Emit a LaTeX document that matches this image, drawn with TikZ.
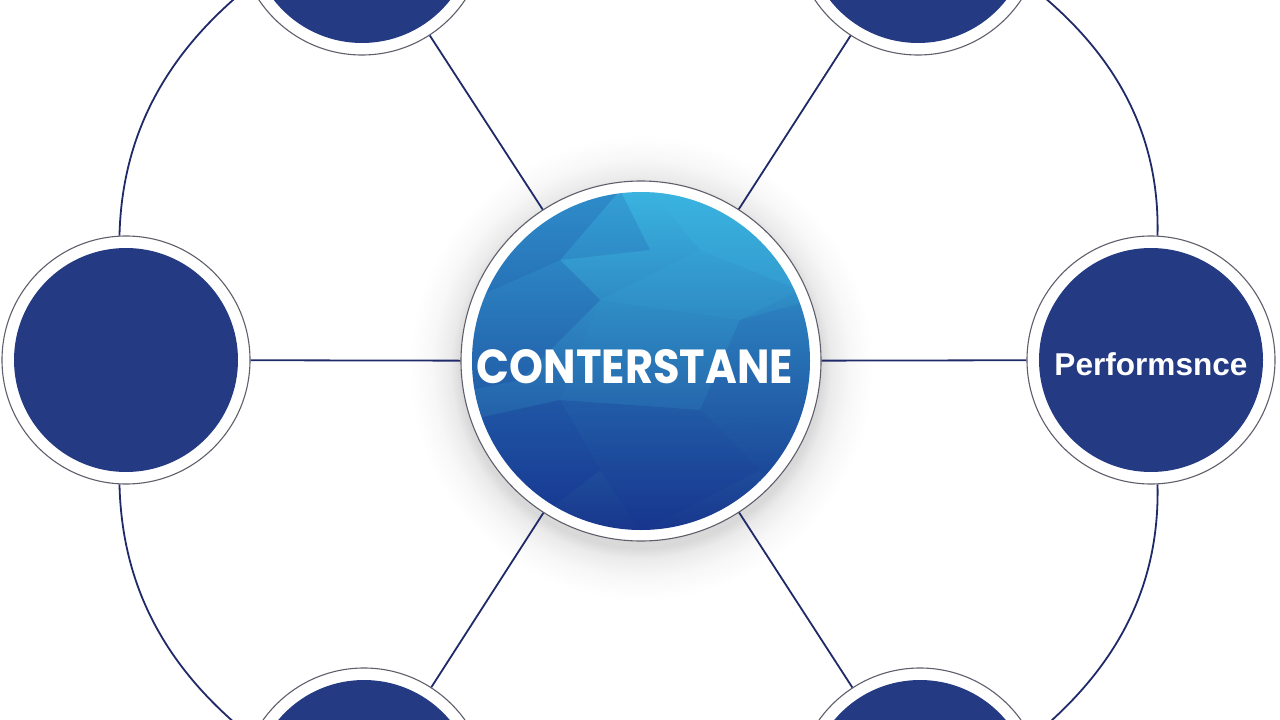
\documentclass[tikz,border=0pt]{standalone}
\usepackage{fontspec}
\newfontfamily\popfont{Poppins}
\newfontfamily\arialfont{Liberation Sans}
\usetikzlibrary{calc}
\definecolor{navy}{RGB}{36,59,132}
\definecolor{linecol}{RGB}{32,42,104}
\definecolor{ringcol}{RGB}{95,95,108}
\definecolor{cyanA}{RGB}{58,180,224}
\definecolor{blueB}{RGB}{34,108,200}
\definecolor{blueC}{RGB}{24,54,140}
\definecolor{deepblue}{RGB}{20,50,150}
\pgfdeclareradialshading{glow}{\pgfpoint{0bp}{0bp}}{color(0bp)=(black!15); color(19.4bp)=(black!15); color(20.5bp)=(black!8); color(22.5bp)=(black!3); color(25bp)=(white); color(50bp)=(white)}
\begin{document}
\begin{tikzpicture}[x=1pt,y=-1pt,
  outer/.style={circle, minimum size=248pt, inner sep=0pt, draw=ringcol, line width=1.1pt, fill=white},
  hub/.style={circle, minimum size=360pt, inner sep=0pt, draw=ringcol, line width=1.1pt, fill=white},
  link/.style={draw=linecol, line width=1.8pt},
  facetW/.style={fill=cyanA, fill opacity=#1},
  facetK/.style={fill=deepblue, fill opacity=#1},
  label/.style={text=white, inner sep=0pt}
]
\fill[white] (0,0) rectangle (1280,720);
\useasboundingbox (0,0) rectangle (1280,720);
\shade[shading=glow] (641,368) circle (232);

% nodes (outer rings)
\node[hub] (C) at (641,361) {};
\node[outer] (L) at (126,360) {};
\node[outer] (R) at (1151,360) {};
\node[outer] (TL) at (362,-69) {};
\node[outer] (TR) at (918,-69) {};
\node[outer] (BL) at (364,792) {};
\node[outer] (BR) at (920,792) {};

% spokes
\draw[link] (C) -- (L);
\draw[link] (C) -- (R);
\draw[link] (C) -- (TL);
\draw[link] (C) -- (TR);
\draw[link] (C) -- (BL);
\draw[link] (C) -- (BR);

% outer arcs
\draw[link] (L.93) .. controls (122,130) and (170,50) .. (TL.206);
\draw[link] (L.267) .. controls (122,592) and (170,672) .. (BL.154);
\draw[link] (R.87) .. controls (1160,130) and (1112,50) .. (TR.334);
\draw[link] (R.273) .. controls (1160,592) and (1112,672) .. (BR.26);

% inner fills
\fill[navy] (L.center) circle (112);
\fill[navy] (R.center) circle (112);
\fill[navy] (TL.center) circle (112);
\fill[navy] (TR.center) circle (112);
\fill[navy] (BL.center) circle (112);
\fill[navy] (BR.center) circle (112);

% central low-poly disc
\begin{scope}
  \clip (C.center) circle (169);
  \shade[top color=cyanA, middle color=blueB, bottom color=blueC] (460,190) rectangle (822,532);
  \fill[facetK=0.30] (470,190) -- (620,190) -- (560,260) -- (470,300) -- cycle;
  \fill[facetK=0.15] (560,260) -- (620,190) -- (650,250) -- cycle;
  \fill[facetW=0.35] (650,190) -- (812,200) -- (800,290) -- (700,250) -- cycle;
  \fill[facetW=0.15] (700,250) -- (800,290) -- (740,320) -- (600,300) -- cycle;
  \fill[facetK=0.20] (470,300) -- (560,260) -- (600,300) -- (520,380) -- (470,390) -- cycle;
  \fill[facetW=0.06] (600,300) -- (740,320) -- (700,410) -- (560,400) -- cycle;
  \fill[facetK=0.10] (740,320) -- (812,300) -- (812,440) -- (700,410) -- cycle;
  \fill[facetK=0.30] (470,420) -- (560,400) -- (600,470) -- (520,532) -- (470,532) -- cycle;
  \fill[facetK=0.18] (560,400) -- (700,410) -- (760,470) -- (640,532) -- (600,470) -- cycle;
  \fill[facetK=0.10] (700,410) -- (812,440) -- (812,532) -- (760,470) -- cycle;
\end{scope}

% labels
\node[label] (Ct) at (635,366.5) {\resizebox{316pt}{34pt}{\popfont\bfseries CONTERSTANE}};
\node[label] (Rt) at (1151,364) {\resizebox{193pt}{!}{\arialfont\bfseries Performsnce}};
\end{tikzpicture}
\end{document}
